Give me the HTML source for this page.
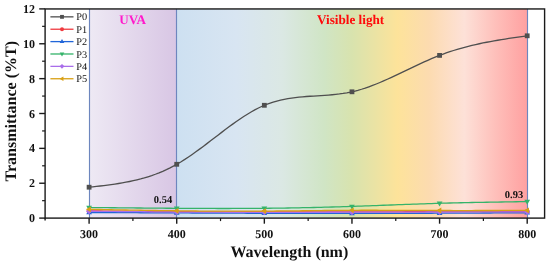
<!DOCTYPE html>
<html><head><meta charset="utf-8"><style>
html,body{margin:0;padding:0;background:#fff;}
body{width:550px;height:264px;overflow:hidden;}
svg{display:block;}
text{font-family:"Liberation Serif","Times New Roman",serif;font-weight:bold;text-rendering:geometricPrecision;}
</style></head><body>
<svg width="550" height="264" viewBox="0 0 550 264">
<defs>
<linearGradient id="uva" x1="0" x2="1" y1="0" y2="0">
<stop offset="0" stop-color="#eee9f4"/>
<stop offset="1" stop-color="#d8c6e4"/>
</linearGradient>
<linearGradient id="vis" x1="0" x2="1" y1="0" y2="0">
<stop offset="0" stop-color="#cde0f1"/>
<stop offset="0.17" stop-color="#d8e5f2"/>
<stop offset="0.3" stop-color="#dbe8e4"/>
<stop offset="0.42" stop-color="#d0e5c5"/>
<stop offset="0.5" stop-color="#d8e3ae"/>
<stop offset="0.63" stop-color="#fde39a"/>
<stop offset="0.72" stop-color="#fcdbb0"/>
<stop offset="0.82" stop-color="#fde1d8"/>
<stop offset="0.91" stop-color="#febfba"/>
<stop offset="1" stop-color="#ffa0a0"/>
</linearGradient>
</defs>
<rect width="550" height="264" fill="#fff"/>

<rect x="89.50" y="8.95" width="87.00" height="209.15" fill="url(#uva)"/>
<rect x="176.50" y="8.95" width="351.00" height="209.15" fill="url(#vis)"/>
<line x1="89.50" y1="8.95" x2="89.50" y2="218.1" stroke="#6d86be" stroke-width="1.15"/>
<line x1="176.50" y1="8.95" x2="176.50" y2="218.1" stroke="#6d86be" stroke-width="1.15"/>
<line x1="527.50" y1="8.95" x2="527.50" y2="218.1" stroke="#6d86be" stroke-width="1.15"/>
<text x="132.6" y="23.8" font-size="13.1" fill="#ff1acb" text-anchor="middle">UVA</text>
<text x="350.6" y="23.6" font-size="13.2" fill="#ff0a0a" text-anchor="middle">Visible light</text>
<text x="163" y="203.2" font-size="10.5" fill="#111" text-anchor="middle">0.54</text>
<text x="514" y="197.6" font-size="10.5" fill="#111" text-anchor="middle">0.93</text>
<path d="M89.10,187.20 L92.78,186.80 96.46,186.40 100.14,185.98 103.83,185.55 107.51,185.09 111.19,184.60 114.87,184.08 118.55,183.51 122.23,182.90 125.92,182.23 129.60,181.51 133.28,180.71 136.96,179.85 140.64,178.91 144.32,177.88 148.00,176.76 151.69,175.55 155.37,174.24 159.05,172.81 162.73,171.28 166.41,169.62 170.09,167.84 173.77,165.93 177.46,163.88 181.14,161.69 184.82,159.38 188.50,156.95 192.18,154.42 195.86,151.81 199.55,149.13 203.23,146.40 206.91,143.62 210.59,140.81 214.27,137.99 217.95,135.17 221.63,132.36 225.32,129.57 229.00,126.83 232.68,124.14 236.36,121.52 240.04,118.99 243.72,116.54 247.41,114.21 251.09,112.01 254.77,109.94 258.45,108.02 262.13,106.27 265.81,104.69 269.49,103.30 273.18,102.08 276.86,101.01 280.54,100.09 284.22,99.30 287.90,98.62 291.58,98.04 295.26,97.56 298.95,97.15 302.63,96.81 306.31,96.52 309.99,96.26 313.67,96.03 317.35,95.81 321.04,95.58 324.72,95.34 328.40,95.08 332.08,94.77 335.76,94.40 339.44,93.97 343.12,93.45 346.81,92.84 350.49,92.12 354.17,91.28 357.85,90.32 361.53,89.25 365.21,88.07 368.89,86.79 372.58,85.43 376.26,83.99 379.94,82.48 383.62,80.91 387.30,79.28 390.98,77.61 394.67,75.91 398.35,74.17 402.03,72.42 405.71,70.65 409.39,68.88 413.07,67.12 416.75,65.38 420.44,63.65 424.12,61.96 427.80,60.31 431.48,58.71 435.16,57.17 438.84,55.69 442.53,54.28 446.21,52.95 449.89,51.69 453.57,50.50 457.25,49.37 460.93,48.30 464.61,47.29 468.30,46.33 471.98,45.42 475.66,44.56 479.34,43.75 483.02,42.98 486.70,42.25 490.38,41.55 494.07,40.88 497.75,40.24 501.43,39.63 505.11,39.04 508.79,38.47 512.47,37.92 516.16,37.38 519.84,36.85 523.52,36.32 527.20,35.80" fill="none" stroke="#4f4f4f" stroke-width="1.3"/>
<rect x="86.70" y="184.80" width="4.80" height="4.80" fill="#4f4f4f"/>
<rect x="174.32" y="161.90" width="4.80" height="4.80" fill="#4f4f4f"/>
<rect x="261.94" y="102.90" width="4.80" height="4.80" fill="#4f4f4f"/>
<rect x="349.56" y="89.40" width="4.80" height="4.80" fill="#4f4f4f"/>
<rect x="437.18" y="53.00" width="4.80" height="4.80" fill="#4f4f4f"/>
<rect x="524.80" y="33.40" width="4.80" height="4.80" fill="#4f4f4f"/>
<path d="M89.10,210.90 L92.78,210.94 96.46,210.98 100.14,211.01 103.83,211.05 107.51,211.09 111.19,211.13 114.87,211.16 118.55,211.20 122.23,211.24 125.92,211.27 129.60,211.31 133.28,211.34 136.96,211.38 140.64,211.41 144.32,211.45 148.00,211.48 151.69,211.51 155.37,211.54 159.05,211.57 162.73,211.60 166.41,211.63 170.09,211.65 173.77,211.68 177.46,211.70 181.14,211.73 184.82,211.75 188.50,211.77 192.18,211.79 195.86,211.81 199.55,211.83 203.23,211.85 206.91,211.86 210.59,211.88 214.27,211.89 217.95,211.91 221.63,211.92 225.32,211.93 229.00,211.94 232.68,211.95 236.36,211.96 240.04,211.97 243.72,211.98 247.41,211.98 251.09,211.99 254.77,211.99 258.45,212.00 262.13,212.00 265.81,212.00 269.49,212.00 273.18,212.00 276.86,212.00 280.54,212.00 284.22,212.00 287.90,212.00 291.58,212.00 295.26,212.00 298.95,211.99 302.63,211.99 306.31,211.98 309.99,211.98 313.67,211.97 317.35,211.97 321.04,211.96 324.72,211.96 328.40,211.95 332.08,211.94 335.76,211.93 339.44,211.93 343.12,211.92 346.81,211.91 350.49,211.90 354.17,211.89 357.85,211.89 361.53,211.88 365.21,211.87 368.89,211.86 372.58,211.85 376.26,211.84 379.94,211.83 383.62,211.82 387.30,211.82 390.98,211.81 394.67,211.80 398.35,211.79 402.03,211.78 405.71,211.77 409.39,211.76 413.07,211.75 416.75,211.75 420.44,211.74 424.12,211.73 427.80,211.72 431.48,211.72 435.16,211.71 438.84,211.70 442.53,211.69 446.21,211.69 449.89,211.68 453.57,211.68 457.25,211.67 460.93,211.67 464.61,211.66 468.30,211.66 471.98,211.65 475.66,211.65 479.34,211.64 483.02,211.64 486.70,211.64 490.38,211.63 494.07,211.63 497.75,211.63 501.43,211.62 505.11,211.62 508.79,211.62 512.47,211.61 516.16,211.61 519.84,211.61 523.52,211.60 527.20,211.60" fill="none" stroke="#ef3a3f" stroke-width="1.3"/>
<circle cx="89.10" cy="210.90" r="2.50" fill="#ef3a3f"/>
<circle cx="176.72" cy="211.70" r="2.50" fill="#ef3a3f"/>
<circle cx="264.34" cy="212.00" r="2.50" fill="#ef3a3f"/>
<circle cx="351.96" cy="211.90" r="2.50" fill="#ef3a3f"/>
<circle cx="439.58" cy="211.70" r="2.50" fill="#ef3a3f"/>
<circle cx="527.20" cy="211.60" r="2.50" fill="#ef3a3f"/>
<path d="M89.10,212.50 L92.78,212.52 96.46,212.53 100.14,212.55 103.83,212.56 107.51,212.58 111.19,212.60 114.87,212.61 118.55,212.63 122.23,212.65 125.92,212.66 129.60,212.68 133.28,212.70 136.96,212.71 140.64,212.73 144.32,212.75 148.00,212.76 151.69,212.78 155.37,212.80 159.05,212.81 162.73,212.83 166.41,212.85 170.09,212.87 173.77,212.89 177.46,212.90 181.14,212.92 184.82,212.94 188.50,212.96 192.18,212.98 195.86,213.00 199.55,213.01 203.23,213.03 206.91,213.05 210.59,213.07 214.27,213.09 217.95,213.11 221.63,213.12 225.32,213.14 229.00,213.16 232.68,213.18 236.36,213.19 240.04,213.21 243.72,213.22 247.41,213.24 251.09,213.25 254.77,213.27 258.45,213.28 262.13,213.29 265.81,213.30 269.49,213.32 273.18,213.33 276.86,213.34 280.54,213.35 284.22,213.35 287.90,213.36 291.58,213.37 295.26,213.38 298.95,213.38 302.63,213.39 306.31,213.39 309.99,213.40 313.67,213.40 317.35,213.40 321.04,213.40 324.72,213.41 328.40,213.41 332.08,213.41 335.76,213.41 339.44,213.41 343.12,213.41 346.81,213.40 350.49,213.40 354.17,213.40 357.85,213.39 361.53,213.39 365.21,213.39 368.89,213.38 372.58,213.38 376.26,213.37 379.94,213.36 383.62,213.36 387.30,213.35 390.98,213.34 394.67,213.34 398.35,213.33 402.03,213.32 405.71,213.31 409.39,213.30 413.07,213.29 416.75,213.28 420.44,213.27 424.12,213.25 427.80,213.24 431.48,213.23 435.16,213.22 438.84,213.20 442.53,213.19 446.21,213.17 449.89,213.16 453.57,213.15 457.25,213.13 460.93,213.11 464.61,213.10 468.30,213.08 471.98,213.07 475.66,213.05 479.34,213.03 483.02,213.02 486.70,213.00 490.38,212.98 494.07,212.96 497.75,212.95 501.43,212.93 505.11,212.91 508.79,212.89 512.47,212.87 516.16,212.86 519.84,212.84 523.52,212.82 527.20,212.80" fill="none" stroke="#2166d9" stroke-width="1.3"/>
<path d="M89.10,209.30 L91.98,214.26 L86.22,214.26Z" fill="#2166d9"/>
<path d="M176.72,209.70 L179.60,214.66 L173.84,214.66Z" fill="#2166d9"/>
<path d="M264.34,210.10 L267.22,215.06 L261.46,215.06Z" fill="#2166d9"/>
<path d="M351.96,210.20 L354.84,215.16 L349.08,215.16Z" fill="#2166d9"/>
<path d="M439.58,210.00 L442.46,214.96 L436.70,214.96Z" fill="#2166d9"/>
<path d="M527.20,209.60 L530.08,214.56 L524.32,214.56Z" fill="#2166d9"/>
<path d="M89.10,207.50 L92.78,207.54 96.46,207.58 100.14,207.61 103.83,207.65 107.51,207.69 111.19,207.73 114.87,207.76 118.55,207.80 122.23,207.84 125.92,207.87 129.60,207.91 133.28,207.94 136.96,207.98 140.64,208.01 144.32,208.05 148.00,208.08 151.69,208.11 155.37,208.14 159.05,208.17 162.73,208.20 166.41,208.23 170.09,208.25 173.77,208.28 177.46,208.30 181.14,208.33 184.82,208.35 188.50,208.37 192.18,208.39 195.86,208.41 199.55,208.43 203.23,208.44 206.91,208.45 210.59,208.46 214.27,208.47 217.95,208.48 221.63,208.48 225.32,208.48 229.00,208.48 232.68,208.47 236.36,208.47 240.04,208.46 243.72,208.44 247.41,208.42 251.09,208.40 254.77,208.38 258.45,208.35 262.13,208.32 265.81,208.29 269.49,208.25 273.18,208.20 276.86,208.16 280.54,208.11 284.22,208.05 287.90,207.99 291.58,207.93 295.26,207.87 298.95,207.80 302.63,207.72 306.31,207.65 309.99,207.57 313.67,207.48 317.35,207.39 321.04,207.30 324.72,207.21 328.40,207.11 332.08,207.01 335.76,206.90 339.44,206.79 343.12,206.68 346.81,206.57 350.49,206.45 354.17,206.33 357.85,206.20 361.53,206.07 365.21,205.94 368.89,205.81 372.58,205.68 376.26,205.54 379.94,205.40 383.62,205.26 387.30,205.13 390.98,204.99 394.67,204.85 398.35,204.71 402.03,204.57 405.71,204.44 409.39,204.30 413.07,204.17 416.75,204.04 420.44,203.91 424.12,203.79 427.80,203.67 431.48,203.55 435.16,203.43 438.84,203.32 442.53,203.22 446.21,203.11 449.89,203.02 453.57,202.92 457.25,202.83 460.93,202.75 464.61,202.66 468.30,202.58 471.98,202.51 475.66,202.44 479.34,202.36 483.02,202.30 486.70,202.23 490.38,202.17 494.07,202.10 497.75,202.04 501.43,201.98 505.11,201.93 508.79,201.87 512.47,201.82 516.16,201.76 519.84,201.71 523.52,201.65 527.20,201.60" fill="none" stroke="#35b36a" stroke-width="1.3"/>
<path d="M89.10,210.70 L91.98,205.74 L86.22,205.74Z" fill="#35b36a"/>
<path d="M176.72,211.50 L179.60,206.54 L173.84,206.54Z" fill="#35b36a"/>
<path d="M264.34,211.50 L267.22,206.54 L261.46,206.54Z" fill="#35b36a"/>
<path d="M351.96,209.60 L354.84,204.64 L349.08,204.64Z" fill="#35b36a"/>
<path d="M439.58,206.50 L442.46,201.54 L436.70,201.54Z" fill="#35b36a"/>
<path d="M527.20,204.80 L530.08,199.84 L524.32,199.84Z" fill="#35b36a"/>
<path d="M89.10,211.20 L92.78,211.24 96.46,211.28 100.14,211.31 103.83,211.35 107.51,211.39 111.19,211.43 114.87,211.46 118.55,211.50 122.23,211.54 125.92,211.57 129.60,211.61 133.28,211.64 136.96,211.68 140.64,211.71 144.32,211.75 148.00,211.78 151.69,211.81 155.37,211.84 159.05,211.87 162.73,211.90 166.41,211.93 170.09,211.95 173.77,211.98 177.46,212.00 181.14,212.03 184.82,212.05 188.50,212.07 192.18,212.09 195.86,212.11 199.55,212.13 203.23,212.15 206.91,212.16 210.59,212.18 214.27,212.19 217.95,212.21 221.63,212.22 225.32,212.23 229.00,212.24 232.68,212.25 236.36,212.26 240.04,212.27 243.72,212.28 247.41,212.28 251.09,212.29 254.77,212.29 258.45,212.30 262.13,212.30 265.81,212.30 269.49,212.30 273.18,212.30 276.86,212.30 280.54,212.30 284.22,212.30 287.90,212.30 291.58,212.30 295.26,212.30 298.95,212.29 302.63,212.29 306.31,212.28 309.99,212.28 313.67,212.27 317.35,212.27 321.04,212.26 324.72,212.26 328.40,212.25 332.08,212.24 335.76,212.23 339.44,212.23 343.12,212.22 346.81,212.21 350.49,212.20 354.17,212.19 357.85,212.19 361.53,212.18 365.21,212.17 368.89,212.16 372.58,212.15 376.26,212.14 379.94,212.13 383.62,212.12 387.30,212.12 390.98,212.11 394.67,212.10 398.35,212.09 402.03,212.08 405.71,212.07 409.39,212.06 413.07,212.05 416.75,212.05 420.44,212.04 424.12,212.03 427.80,212.02 431.48,212.02 435.16,212.01 438.84,212.00 442.53,211.99 446.21,211.99 449.89,211.98 453.57,211.98 457.25,211.97 460.93,211.97 464.61,211.96 468.30,211.96 471.98,211.95 475.66,211.95 479.34,211.94 483.02,211.94 486.70,211.94 490.38,211.93 494.07,211.93 497.75,211.93 501.43,211.92 505.11,211.92 508.79,211.92 512.47,211.91 516.16,211.91 519.84,211.91 523.52,211.90 527.20,211.90" fill="none" stroke="#a96eea" stroke-width="1.3"/>
<path d="M89.10,208.20 L92.10,211.20 L89.10,214.20 L86.10,211.20Z" fill="#a96eea"/>
<path d="M176.72,209.00 L179.72,212.00 L176.72,215.00 L173.72,212.00Z" fill="#a96eea"/>
<path d="M264.34,209.30 L267.34,212.30 L264.34,215.30 L261.34,212.30Z" fill="#a96eea"/>
<path d="M351.96,209.20 L354.96,212.20 L351.96,215.20 L348.96,212.20Z" fill="#a96eea"/>
<path d="M439.58,209.00 L442.58,212.00 L439.58,215.00 L436.58,212.00Z" fill="#a96eea"/>
<path d="M527.20,208.90 L530.20,211.90 L527.20,214.90 L524.20,211.90Z" fill="#a96eea"/>
<path d="M89.10,209.30 L92.78,209.37 96.46,209.44 100.14,209.52 103.83,209.59 107.51,209.66 111.19,209.73 114.87,209.80 118.55,209.87 122.23,209.94 125.92,210.01 129.60,210.07 133.28,210.14 136.96,210.20 140.64,210.27 144.32,210.33 148.00,210.39 151.69,210.45 155.37,210.51 159.05,210.56 162.73,210.62 166.41,210.67 170.09,210.72 173.77,210.76 177.46,210.81 181.14,210.85 184.82,210.89 188.50,210.93 192.18,210.97 195.86,211.00 199.55,211.03 203.23,211.06 206.91,211.08 210.59,211.10 214.27,211.12 217.95,211.14 221.63,211.15 225.32,211.17 229.00,211.17 232.68,211.18 236.36,211.18 240.04,211.18 243.72,211.18 247.41,211.17 251.09,211.16 254.77,211.15 258.45,211.13 262.13,211.11 265.81,211.09 269.49,211.06 273.18,211.04 276.86,211.00 280.54,210.97 284.22,210.94 287.90,210.90 291.58,210.86 295.26,210.82 298.95,210.78 302.63,210.74 306.31,210.70 309.99,210.66 313.67,210.62 317.35,210.58 321.04,210.54 324.72,210.50 328.40,210.47 332.08,210.43 335.76,210.40 339.44,210.37 343.12,210.35 346.81,210.33 350.49,210.31 354.17,210.29 357.85,210.28 361.53,210.27 365.21,210.27 368.89,210.27 372.58,210.27 376.26,210.27 379.94,210.28 383.62,210.29 387.30,210.30 390.98,210.31 394.67,210.32 398.35,210.33 402.03,210.35 405.71,210.37 409.39,210.38 413.07,210.40 416.75,210.41 420.44,210.43 424.12,210.45 427.80,210.46 431.48,210.47 435.16,210.49 438.84,210.50 442.53,210.51 446.21,210.51 449.89,210.52 453.57,210.53 457.25,210.53 460.93,210.53 464.61,210.53 468.30,210.53 471.98,210.53 475.66,210.52 479.34,210.52 483.02,210.51 486.70,210.51 490.38,210.50 494.07,210.49 497.75,210.48 501.43,210.47 505.11,210.46 508.79,210.45 512.47,210.44 516.16,210.43 519.84,210.42 523.52,210.41 527.20,210.40" fill="none" stroke="#d9a014" stroke-width="1.3"/>
<path d="M85.90,209.30 L90.86,206.42 L90.86,212.18Z" fill="#d9a014"/>
<path d="M173.52,210.80 L178.48,207.92 L178.48,213.68Z" fill="#d9a014"/>
<path d="M261.14,211.10 L266.10,208.22 L266.10,213.98Z" fill="#d9a014"/>
<path d="M348.76,210.30 L353.72,207.42 L353.72,213.18Z" fill="#d9a014"/>
<path d="M436.38,210.50 L441.34,207.62 L441.34,213.38Z" fill="#d9a014"/>
<path d="M524.00,210.40 L528.96,207.52 L528.96,213.28Z" fill="#d9a014"/>
<rect x="45.1" y="8.95" width="499.5" height="209.15" fill="none" stroke="#1a1a1a" stroke-width="1.4"/>
<line x1="45.1" y1="218.1" x2="45.1" y2="220.6" stroke="#1a1a1a" stroke-width="1.4"/>
<line x1="39.2" y1="218.10" x2="45.1" y2="218.10" stroke="#1a1a1a" stroke-width="1.4"/>
<text x="34.9" y="222.20" font-size="12" fill="#111" text-anchor="end">0</text>
<line x1="42.1" y1="200.67" x2="45.1" y2="200.67" stroke="#1a1a1a" stroke-width="1.2"/>
<line x1="39.2" y1="183.23" x2="45.1" y2="183.23" stroke="#1a1a1a" stroke-width="1.4"/>
<text x="34.9" y="187.33" font-size="12" fill="#111" text-anchor="end">2</text>
<line x1="42.1" y1="165.80" x2="45.1" y2="165.80" stroke="#1a1a1a" stroke-width="1.2"/>
<line x1="39.2" y1="148.37" x2="45.1" y2="148.37" stroke="#1a1a1a" stroke-width="1.4"/>
<text x="34.9" y="152.47" font-size="12" fill="#111" text-anchor="end">4</text>
<line x1="42.1" y1="130.94" x2="45.1" y2="130.94" stroke="#1a1a1a" stroke-width="1.2"/>
<line x1="39.2" y1="113.50" x2="45.1" y2="113.50" stroke="#1a1a1a" stroke-width="1.4"/>
<text x="34.9" y="117.60" font-size="12" fill="#111" text-anchor="end">6</text>
<line x1="42.1" y1="96.07" x2="45.1" y2="96.07" stroke="#1a1a1a" stroke-width="1.2"/>
<line x1="39.2" y1="78.64" x2="45.1" y2="78.64" stroke="#1a1a1a" stroke-width="1.4"/>
<text x="34.9" y="82.74" font-size="12" fill="#111" text-anchor="end">8</text>
<line x1="42.1" y1="61.20" x2="45.1" y2="61.20" stroke="#1a1a1a" stroke-width="1.2"/>
<line x1="39.2" y1="43.77" x2="45.1" y2="43.77" stroke="#1a1a1a" stroke-width="1.4"/>
<text x="34.9" y="47.87" font-size="12" fill="#111" text-anchor="end">10</text>
<line x1="42.1" y1="26.34" x2="45.1" y2="26.34" stroke="#1a1a1a" stroke-width="1.2"/>
<line x1="39.2" y1="8.90" x2="45.1" y2="8.90" stroke="#1a1a1a" stroke-width="1.4"/>
<text x="34.9" y="13.00" font-size="12" fill="#111" text-anchor="end">12</text>
<line x1="89.10" y1="218.1" x2="89.10" y2="223.7" stroke="#1a1a1a" stroke-width="1.4"/>
<text x="89.10" y="237.5" font-size="12" fill="#111" text-anchor="middle">300</text>
<line x1="132.91" y1="218.1" x2="132.91" y2="221.1" stroke="#1a1a1a" stroke-width="1.2"/>
<line x1="176.72" y1="218.1" x2="176.72" y2="223.7" stroke="#1a1a1a" stroke-width="1.4"/>
<text x="176.72" y="237.5" font-size="12" fill="#111" text-anchor="middle">400</text>
<line x1="220.53" y1="218.1" x2="220.53" y2="221.1" stroke="#1a1a1a" stroke-width="1.2"/>
<line x1="264.34" y1="218.1" x2="264.34" y2="223.7" stroke="#1a1a1a" stroke-width="1.4"/>
<text x="264.34" y="237.5" font-size="12" fill="#111" text-anchor="middle">500</text>
<line x1="308.15" y1="218.1" x2="308.15" y2="221.1" stroke="#1a1a1a" stroke-width="1.2"/>
<line x1="351.96" y1="218.1" x2="351.96" y2="223.7" stroke="#1a1a1a" stroke-width="1.4"/>
<text x="351.96" y="237.5" font-size="12" fill="#111" text-anchor="middle">600</text>
<line x1="395.77" y1="218.1" x2="395.77" y2="221.1" stroke="#1a1a1a" stroke-width="1.2"/>
<line x1="439.58" y1="218.1" x2="439.58" y2="223.7" stroke="#1a1a1a" stroke-width="1.4"/>
<text x="439.58" y="237.5" font-size="12" fill="#111" text-anchor="middle">700</text>
<line x1="483.39" y1="218.1" x2="483.39" y2="221.1" stroke="#1a1a1a" stroke-width="1.2"/>
<line x1="527.20" y1="218.1" x2="527.20" y2="223.7" stroke="#1a1a1a" stroke-width="1.4"/>
<text x="527.20" y="237.5" font-size="12" fill="#111" text-anchor="middle">800</text>
<text x="289.4" y="256.5" font-size="16" fill="#111" text-anchor="middle">Wavelength (nm)</text>
<text transform="translate(16.4,111.3) rotate(-90)" x="0" y="0" font-size="16" fill="#111" text-anchor="middle">Transmittance (%T)</text>
<line x1="50.4" y1="16.85" x2="73.5" y2="16.85" stroke="#4f4f4f" stroke-width="1.3"/>
<rect x="60.08" y="14.93" width="3.84" height="3.84" fill="#4f4f4f"/>
<text x="76.3" y="20.45" font-size="10.3" fill="#111" style="font-weight:normal">P0</text>
<line x1="50.4" y1="29.23" x2="73.5" y2="29.23" stroke="#ef3a3f" stroke-width="1.3"/>
<circle cx="62.00" cy="29.23" r="2.00" fill="#ef3a3f"/>
<text x="76.3" y="32.83" font-size="10.3" fill="#111" style="font-weight:normal">P1</text>
<line x1="50.4" y1="41.61" x2="73.5" y2="41.61" stroke="#2166d9" stroke-width="1.3"/>
<path d="M62.00,39.05 L64.30,43.02 L59.70,43.02Z" fill="#2166d9"/>
<text x="76.3" y="45.21" font-size="10.3" fill="#111" style="font-weight:normal">P2</text>
<line x1="50.4" y1="53.99" x2="73.5" y2="53.99" stroke="#35b36a" stroke-width="1.3"/>
<path d="M62.00,56.55 L64.30,52.58 L59.70,52.58Z" fill="#35b36a"/>
<text x="76.3" y="57.59" font-size="10.3" fill="#111" style="font-weight:normal">P3</text>
<line x1="50.4" y1="66.37" x2="73.5" y2="66.37" stroke="#a96eea" stroke-width="1.3"/>
<path d="M62.00,63.97 L64.40,66.37 L62.00,68.77 L59.60,66.37Z" fill="#a96eea"/>
<text x="76.3" y="69.97" font-size="10.3" fill="#111" style="font-weight:normal">P4</text>
<line x1="50.4" y1="78.75" x2="73.5" y2="78.75" stroke="#d9a014" stroke-width="1.3"/>
<path d="M59.44,78.75 L63.41,76.45 L63.41,81.05Z" fill="#d9a014"/>
<text x="76.3" y="82.35" font-size="10.3" fill="#111" style="font-weight:normal">P5</text>
</svg>
</body></html>
